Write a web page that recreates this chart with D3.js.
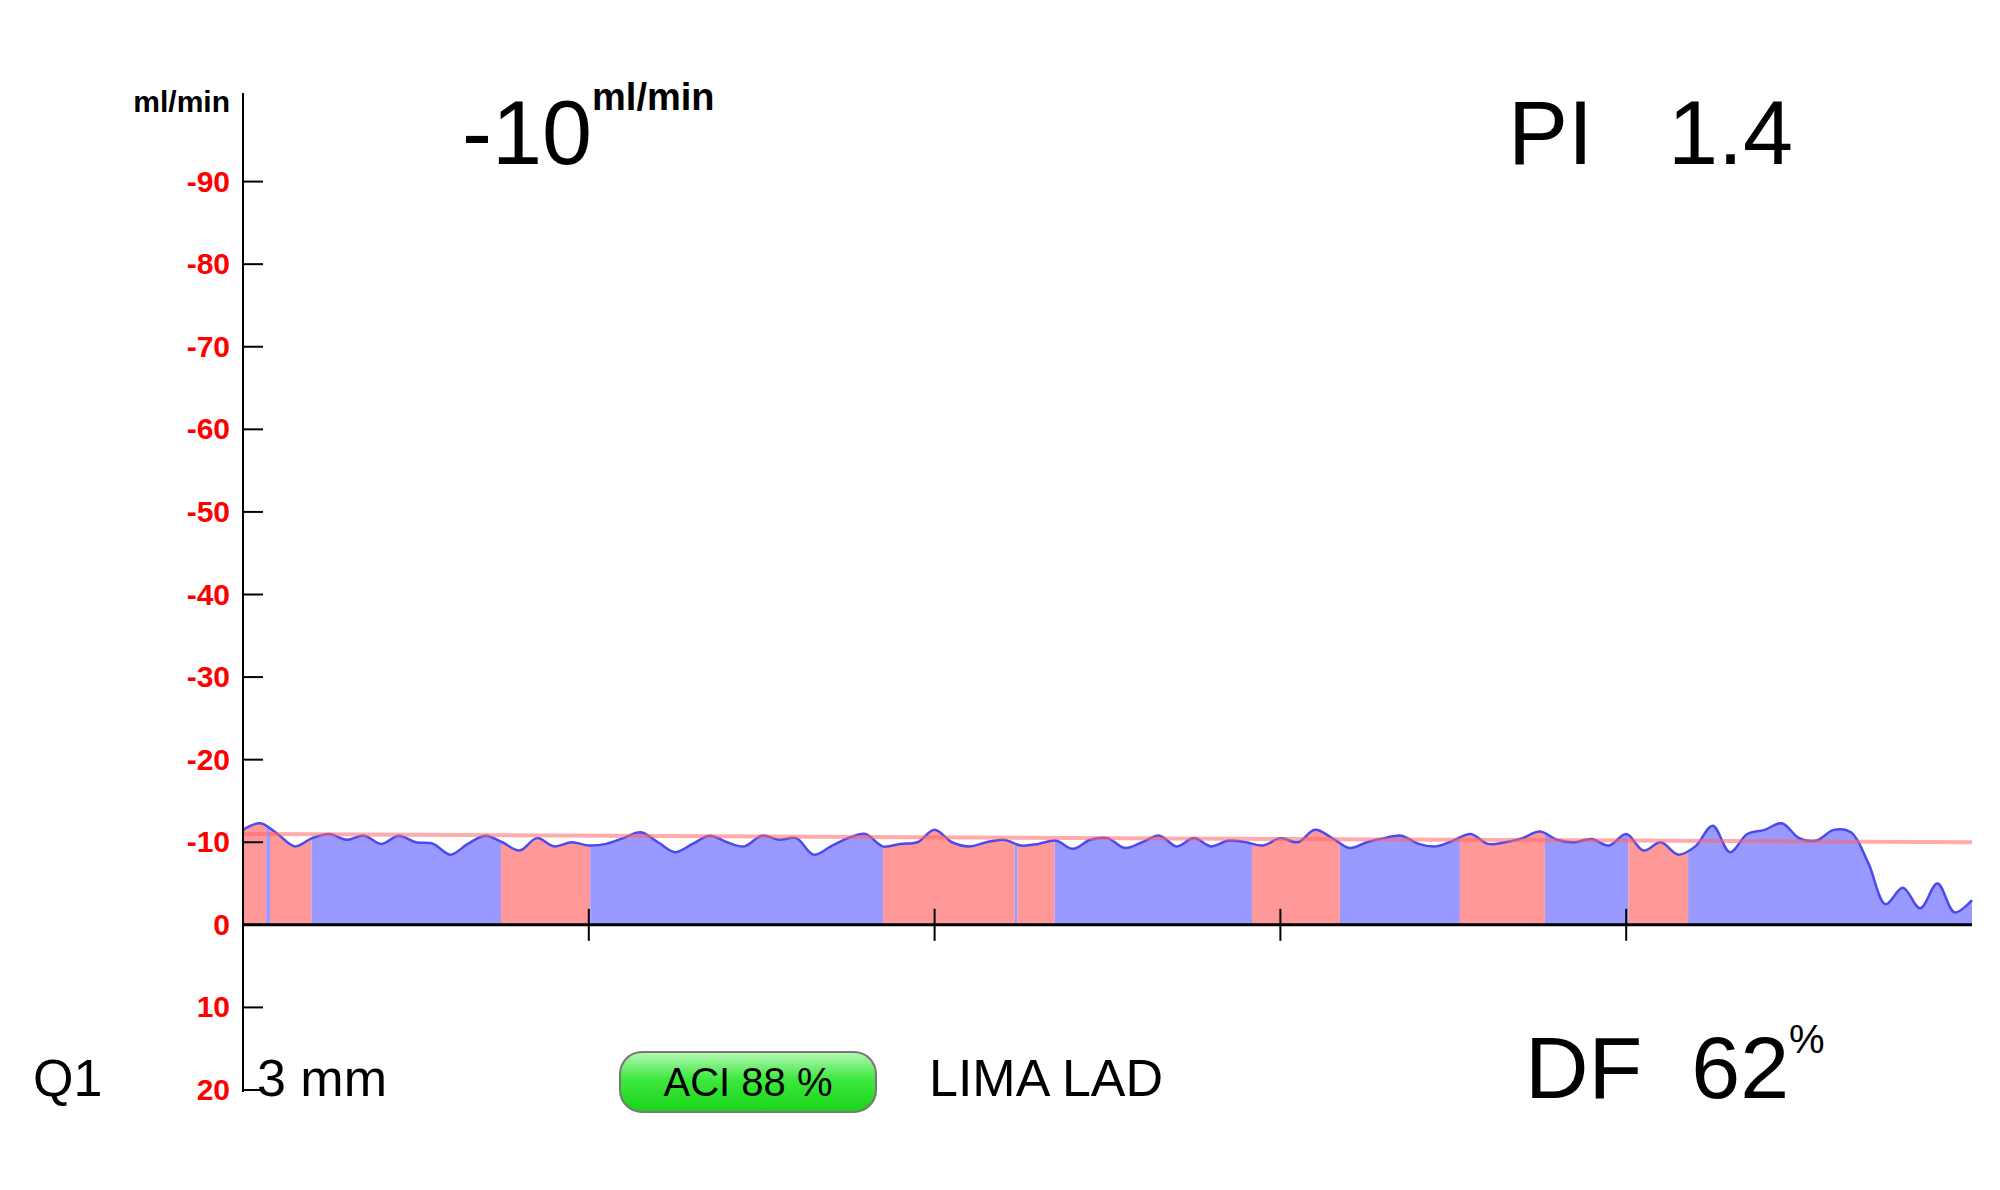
<!DOCTYPE html>
<html>
<head>
<meta charset="UTF-8">
<style>
body { margin: 0; background: #fff; }
text { font-family: Arial, "Liberation Sans", sans-serif; }
</style>
</head>
<body>
<svg id="chart" width="2000" height="1190"></svg>
<script src="https://d3js.org/d3.v7.min.js"></script>
<script>
// flow samples, one every 0.05 s
const flow = [-11.5,-12.3,-11,-9.5,-10.5,-11,-10.3,-10.8,-9.8,-10.8,-10,-9.8,-8.5,-9.8,-10.8,-10,-9,-10.5,-9.5,-10,
  -9.6,-9.8,-10.5,-11.2,-10,-8.8,-9.8,-10.8,-10,-9.5,-10.8,-10.3,-10.5,-8.5,-9.5,-10.5,-11,-9.5,-9.8,-10,
  -11.5,-10,-9.5,-10,-10.3,-9.6,-9.8,-10.2,-9.2,-10.3,-10.5,-9.3,-10,-10.8,-9.5,-10.5,-9.5,-10.2,-10,-9.6,
  -10.5,-10,-11.5,-10.5,-9.3,-10,-10.5,-10.8,-9.8,-9.5,-10.2,-11,-9.8,-10,-10.5,-11.3,-10.3,-10,-10.4,-9.6,
  -11,-9,-10,-8.5,-9.5,-12,-8.8,-11,-11.5,-12.3,-10.5,-10.2,-11.5,-11.2,-7.5,-2.5,-4.5,-2,-5,-1.5,-3];
const dt = 0.05;
// beat bands: [start, end, phase]
const bands = [[0,0.067,"s"],[0.067,0.078,"d"],[0.078,0.198,"s"],[0.198,0.746,"d"],[0.746,1.004,"s"],
  [1.004,1.851,"d"],[1.851,2.231,"s"],[2.231,2.239,"d"],[2.239,2.347,"s"],[2.347,2.918,"d"],
  [2.918,3.172,"s"],[3.172,3.519,"d"],[3.519,3.765,"s"],[3.765,4.007,"d"],[4.007,4.179,"s"],[4.179,5,"d"]];
const meanLine = [[0,-11],[5,-10]];
const yTicks = [-90,-80,-70,-60,-50,-40,-30,-20,-10,0,10,20];
const xTicks = [1,2,3,4];

const svg = d3.select("#chart");
const x = d3.scaleLinear().domain([0,5]).range([243,1972]);
const y = d3.scaleLinear().domain([-100,20]).range([99,1090]);

const pts = flow.map((v,i) => [i*dt, v]);
const area = d3.area().x(d => x(d[0])).y0(y(0)).y1(d => y(d[1])).curve(d3.curveCatmullRom);
const line = d3.line().x(d => x(d[0])).y(d => y(d[1])).curve(d3.curveCatmullRom);

svg.append("clipPath").attr("id","under").append("path").attr("d", area(pts));
svg.append("g").attr("clip-path","url(#under)")
  .selectAll("rect").data(bands).join("rect")
  .attr("x", d => x(d[0])).attr("width", d => x(d[1]) - x(d[0]))
  .attr("y", y(-20)).attr("height", y(0) - y(-20))
  .attr("fill", d => d[2] == "s" ? "#ff9999" : "#9999ff");

svg.append("path").attr("d", line(pts)).attr("fill","none")
  .attr("stroke","#4a4aee").attr("stroke-width",2.5);
svg.append("path").attr("d", d3.line().x(d => x(d[0])).y(d => y(d[1]))(meanLine))
  .attr("stroke","#ff6666").attr("stroke-opacity",0.55).attr("stroke-width",4).attr("fill","none");

// y axis
svg.append("line").attr("x1",243).attr("x2",243).attr("y1",93).attr("y2",y(20)+2)
  .attr("stroke","#000").attr("stroke-width",2);
yTicks.forEach(t => {
  svg.append("line").attr("x1",243).attr("x2",263).attr("y1",y(t)).attr("y2",y(t))
    .attr("stroke","#000").attr("stroke-width",2);
  svg.append("text").attr("x",230).attr("y",y(t)+10).attr("text-anchor","end")
    .attr("font-size",30).attr("font-weight","bold").attr("fill","#ff0000").text(t);
});
// x axis
svg.append("line").attr("x1",243).attr("x2",1972).attr("y1",y(0)).attr("y2",y(0))
  .attr("stroke","#000").attr("stroke-width",3);
xTicks.forEach(t => {
  svg.append("line").attr("x1",x(t)).attr("x2",x(t)).attr("y1",y(0)-16).attr("y2",y(0)+16)
    .attr("stroke","#000").attr("stroke-width",2);
});

svg.append("text").attr("x",230).attr("y",112).attr("text-anchor","end")
  .attr("font-size",30).attr("font-weight","bold").text("ml/min");

const big = svg.append("text").attr("x",462).attr("y",164).attr("font-size",90);
big.append("tspan").text("-10");
big.append("tspan").attr("font-size",38).attr("font-weight","bold").attr("dy",-54).text("ml/min");

svg.append("text").attr("x",1508).attr("y",164).attr("font-size",90).attr("xml:space","preserve").text("PI   1.4");

svg.append("text").attr("x",33).attr("y",1096).attr("font-size",52).text("Q1");
svg.append("text").attr("x",257).attr("y",1096).attr("font-size",52).text("3 mm");

const grad = svg.append("defs").append("linearGradient").attr("id","btn").attr("x1",0).attr("x2",0).attr("y1",0).attr("y2",1);
grad.append("stop").attr("offset","0%").attr("stop-color","#b8f7b8");
grad.append("stop").attr("offset","45%").attr("stop-color","#3ee83e");
grad.append("stop").attr("offset","100%").attr("stop-color","#18d418");
svg.append("rect").attr("x",620).attr("y",1052).attr("width",256).attr("height",60).attr("rx",22)
  .attr("fill","url(#btn)").attr("stroke","#777").attr("stroke-width",2);
svg.append("text").attr("x",748).attr("y",1096).attr("text-anchor","middle").attr("font-size",40).text("ACI 88 %");

svg.append("text").attr("x",929).attr("y",1096).attr("font-size",52).text("LIMA LAD");

const df = svg.append("text").attr("x",1525).attr("y",1098).attr("font-size",88).attr("xml:space","preserve");
df.append("tspan").text("DF  62");
df.append("tspan").attr("font-size",40).attr("dy",-45).text("%");
</script>
</body>
</html>
